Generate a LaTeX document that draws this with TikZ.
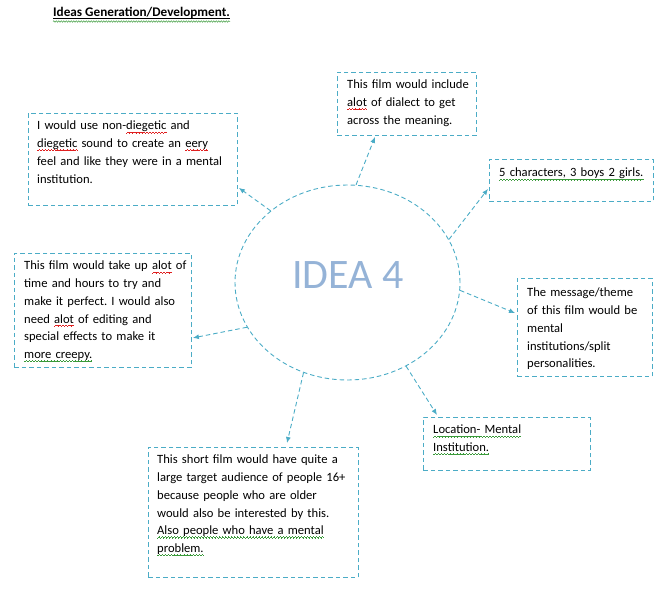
\documentclass[tikz,border=0pt]{standalone}
\usepackage{fontspec}
\setmainfont{Carlito}
\usetikzlibrary{shapes.geometric,arrows.meta,calc,decorations.pathmorphing}
\definecolor{linec}{HTML}{4BACC6}
\definecolor{ideac}{HTML}{95B3D7}
\definecolor{sqred}{HTML}{E02020}
\definecolor{sqgreen}{HTML}{3A9A3A}
\newcommand\wavebit{\hbox{\rule[-3.4pt]{0.75pt}{0.6pt}\rule[-2.8pt]{0.75pt}{0.6pt}\rule[-2.2pt]{0.75pt}{0.6pt}\rule[-2.8pt]{0.75pt}{0.6pt}}}
\newcommand\mysquig[2]{\leavevmode\setbox0\hbox{#2}\rlap{\textcolor{#1}{\hbox to \wd0{\xleaders\wavebit\hfil}}}\box0\relax}
\newcommand\redsq[1]{\mysquig{sqred}{#1}}
\newcommand\grnsq[1]{\mysquig{sqgreen}{#1}}
\newcommand\boxfont{\fontsize{12.6}{17.7}\selectfont\frenchspacing\spaceskip=0.19em\relax}
\begin{document}
\begin{tikzpicture}[x=1pt,y=-1pt,
  dashline/.style={draw=linec, dash pattern=on 4.5pt off 3pt, line width=0.9pt},
  dbox/.style={dashline, rectangle, inner sep=0pt, anchor=north west},
  txt/.style={anchor=north west, inner sep=0pt, text width=260pt, align=left,
    font=\boxfont, text=black},
  conn/.style={dashline, -{Latex[length=6pt,width=5pt]}}
]
\useasboundingbox (0,0) rectangle (660,588);

% title
\node[anchor=base west, inner sep=0pt, font=\bfseries\fontsize{13.2}{15}\selectfont] (title) at (53,17) {Ideas Generation/Development.};
\draw[black, line width=0.6pt] ($(title.base west)+(0,1.6)$) -- ($(title.base east)+(0,1.6)$);
\draw[sqgreen, line width=0.5pt, decorate, decoration={snake, amplitude=0.7pt, segment length=2.5pt}]
  ($(title.base west)+(0,4.5)$) -- ($(title.base east)+(0,4.5)$);

% central ellipse
\node[ellipse, dashline, minimum width=225pt, minimum height=195pt, inner sep=0pt] (idea) at (347.5,282.5) {};
\node[anchor=base, inner sep=0pt, font=\fontsize{42}{42}\selectfont, text=ideac] (ideatext) at (348,288) {IDEA 4};

% boxes
\node[dbox, minimum width=209pt, minimum height=92pt] (b1) at (28,113) {};
\node[dbox, minimum width=139pt, minimum height=63pt] (b2) at (337,72) {};
\node[dbox, minimum width=164pt, minimum height=42pt] (b3) at (489,159) {};
\node[dbox, minimum width=177pt, minimum height=114pt] (b4) at (14,253) {};
\node[dbox, minimum width=135pt, minimum height=98pt] (b5) at (517,278) {};
\node[dbox, minimum width=167pt, minimum height=53pt] (b6) at (423,417) {};
\node[dbox, minimum width=210pt, minimum height=130pt] (b7) at (148,447) {};

% texts
\node[txt] (t1) at (37,121) {I would use non-\redsq{diegetic} and\\ \redsq{diegetic} sound to create an \redsq{eery}\\ feel and like they were in a mental\\ institution.};
\node[txt] (t2) at (347,80) {This film would include\\ \redsq{alot} of dialect to get\\ across the meaning.};
\node[txt] (t3) at (499,168) {\grnsq{5 characters, 3 boys 2 girls.}};
\node[txt] (t4) at (24,261) {This film would take up \redsq{alot} of\\ time and hours to try and\\ make it perfect. I would also\\ need \redsq{alot} of editing and\\ special effects to make it\\ \grnsq{more creepy.}};
\node[txt] (t5) at (527,288) {The message/theme\\ of this film would be\\ mental\\ institutions/split\\ personalities.};
\node[txt] (t6) at (433,425) {\grnsq{Location- Mental}\\ \grnsq{Institution.}};
\node[txt] (t7) at (157,455) {This short film would have quite a\\ large target audience of people 16+\\ because people who are older\\ would also be interested by this.\\ \grnsq{Also people who have a mental}\\ \grnsq{problem.}};

% connectors
\draw[conn] (idea.137) -- ($(b1.south east)+(1,-18)$);
\draw[conn] (idea.85) -- ($(b2.south west)+(38,1)$);
\draw[conn] (idea.23.5) -- ($(b3.south west)+(-1,-13)$);
\draw[conn] (idea.-4.5) -- ($(b5.north west)+(-2,35)$);
\draw[conn] (idea.204) -- ($(b4.south east)+(1,-30)$);
\draw[conn] (idea.244) -- ($(b7.north west)+(139,-4)$);
\draw[conn] (idea.305) -- ($(b6.north west)+(14,-2)$);
\end{tikzpicture}
\end{document}
